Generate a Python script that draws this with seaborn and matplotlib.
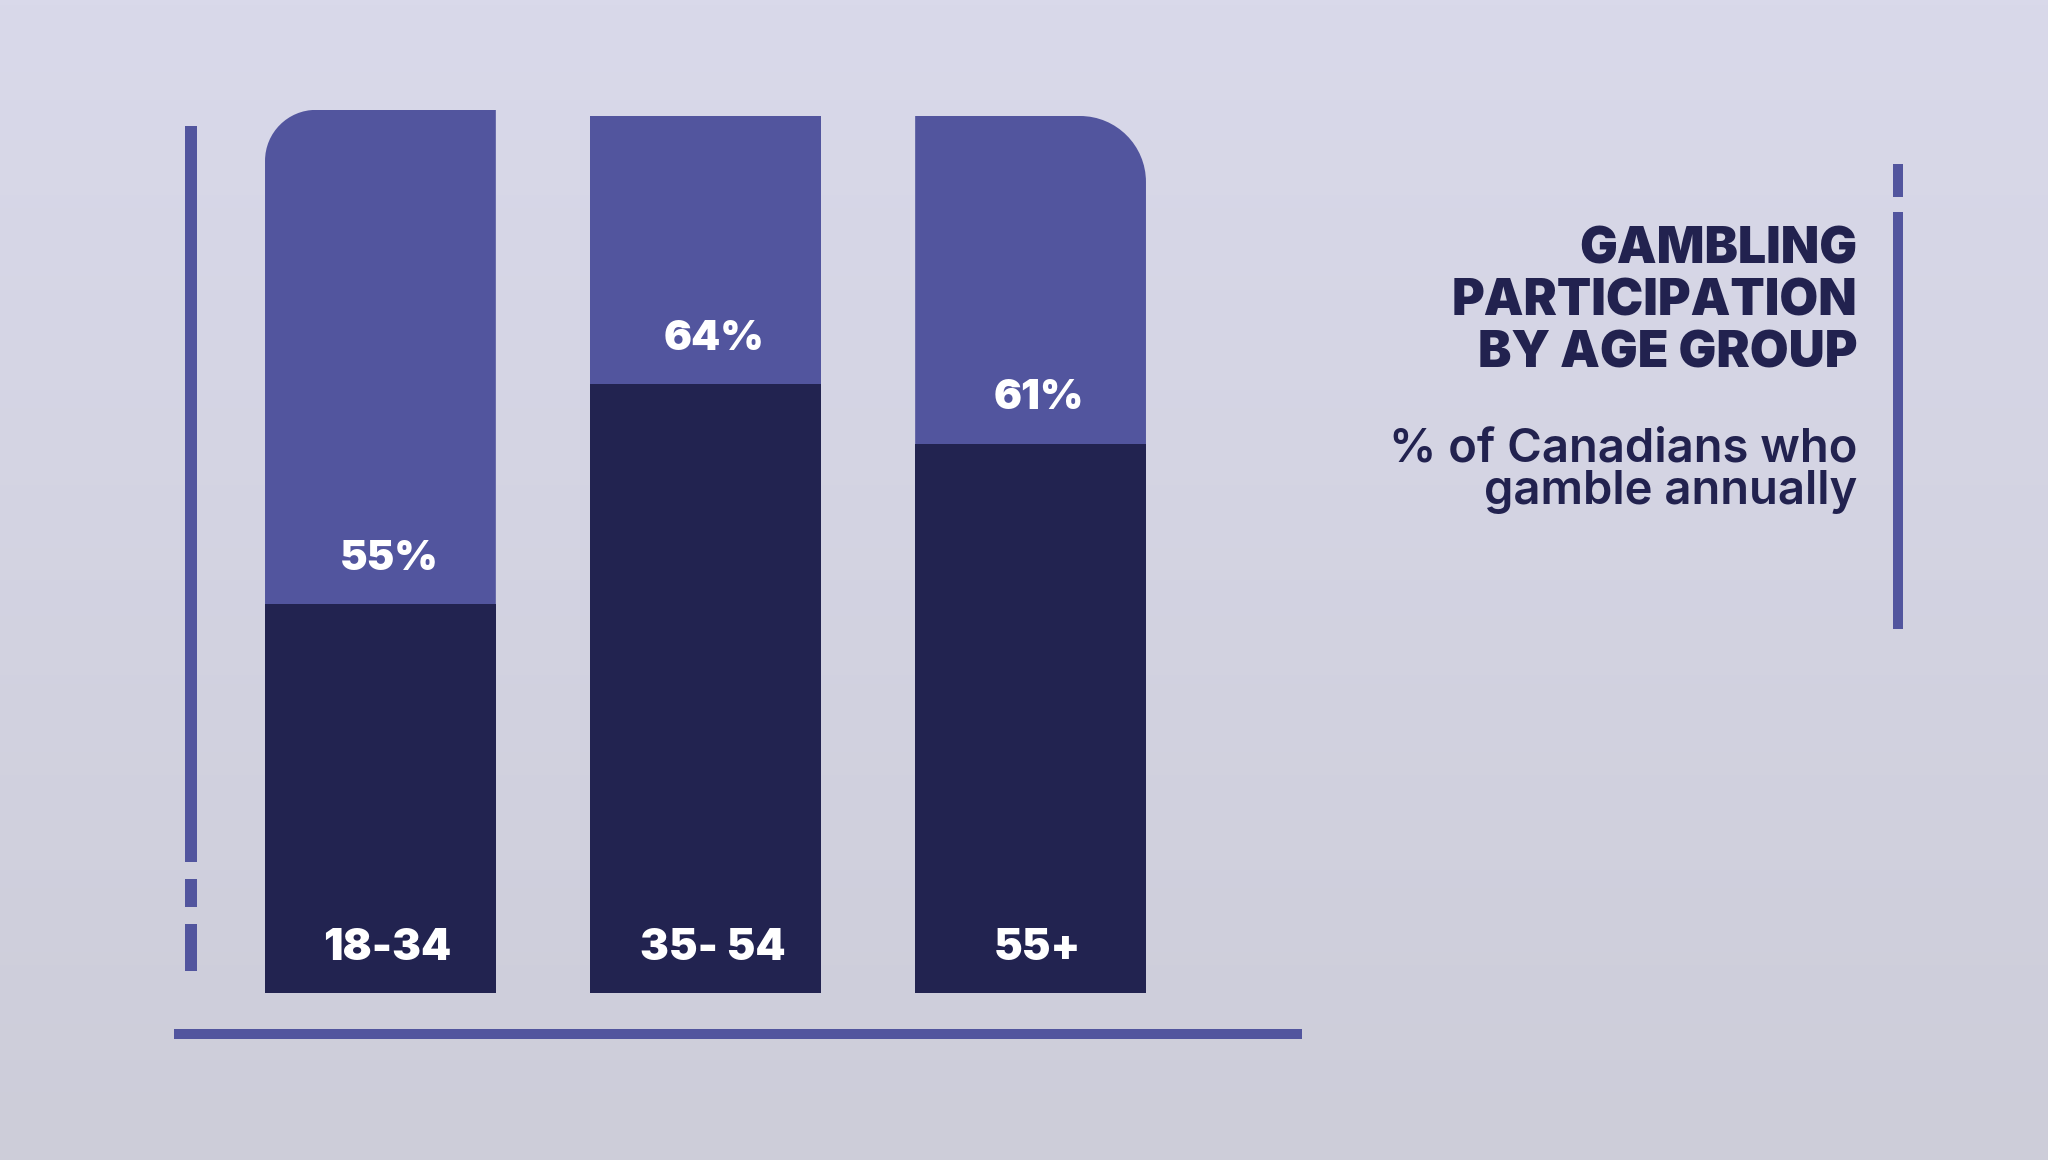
import numpy as np
import matplotlib
matplotlib.use("Agg")
import matplotlib.pyplot as plt
import seaborn as sns
from matplotlib.path import Path
from matplotlib.patches import Rectangle
from matplotlib.colors import LinearSegmentedColormap
from matplotlib.transforms import IdentityTransform

# data
age_groups = ["18-34", "35- 54", "55+"]
pct_labels = ["55%", "64%", "61%"]
bar_total = [100.7, 100, 100]      # full bar height (light part)
dark_part = [44.3, 69.4, 62.6]     # height of the dark segment as drawn

LIGHT = "#52559E"
DARK = "#222350"
INK = "#22224F"

W, H = 2048, 1160
sns.set_theme(style="white")
plt.rcParams['font.family'] = ['Inter', 'DejaVu Sans']

fig = plt.figure(figsize=(W / 100, H / 100), dpi=100)

# background gradient
bg = fig.add_axes([0, 0, 1, 1], zorder=-10)
cmap = LinearSegmentedColormap.from_list("bg", ["#D9D9EA", "#CDCDD9"])
bg.imshow(np.linspace(0, 1, 256)[:, None], aspect='auto', cmap=cmap, extent=[0, 1, 0, 1])
bg.set_axis_off()

ax = fig.add_axes([174 / W, 167 / H, 1128 / W, 943 / H])
ax.set_facecolor('none')

sns.barplot(x=age_groups, y=bar_total, color=LIGHT, saturation=1, width=0.71,
            linewidth=0, ax=ax)
sns.barplot(x=age_groups, y=dark_part, color=DARK, saturation=1, width=0.71,
            linewidth=0, ax=ax)

ax.set_xlim(-0.635, 2.835)
ax.set_ylim(0, 943 / 8.77)
ax.set(xlabel='', ylabel='', xticks=[], yticks=[])
for s in ['top', 'left', 'right']:
    ax.spines[s].set_visible(False)
ax.spines['bottom'].set_position(('outward', 29.5))
ax.spines['bottom'].set_color(LIGHT)
ax.spines['bottom'].set_linewidth(7.2)
ax.spines['bottom'].set_capstyle('butt')

for i, (lab, d) in enumerate(zip(pct_labels, dark_part)):
    ax.annotate(lab, xy=(i, d), xytext=(6, 33), textcoords='offset points',
                ha='center', va='center', color='white', fontsize=30, fontweight='black')
for i, cat in enumerate(age_groups):
    ax.annotate(cat, xy=(i, 0), xytext=(5, 32), textcoords='offset points',
                ha='center', va='center', color='white', fontsize=31, fontweight='black')

# title block
for line, base in zip(["GAMBLING", "PARTICIPATION", "BY AGE GROUP"], [263, 315, 367]):
    fig.text(1857 / W, 1 - base / H, line, ha='right', va='baseline',
             fontsize=36, fontweight='black', color=INK)
fig.text(1857 / W, 1 - 504 / H, "% of Canadians who\ngamble annually",
         ha='right', va='baseline', multialignment='right', linespacing=0.95,
         fontsize=34, fontweight='semibold', color=INK)


def px_rect(x0, y0, x1, y1):
    fig.add_artist(Rectangle((x0 / W, 1 - y1 / H), (x1 - x0) / W, (y1 - y0) / H,
                             transform=fig.transFigure, color=LIGHT, lw=0))


for seg in [(185, 126, 197, 862), (185, 879, 197, 907), (185, 924, 197, 971),
            (1893, 164, 1903, 197), (1893, 212, 1903, 629)]:
    px_rect(*seg)

# rounded corners on the first (top-left) and last (top-right) bar
fig.canvas.draw()
k = 0.5523


def rounded_clip(patch, r, side):
    b = patch.get_window_extent()
    x0, y0, x1, y1 = b.x0, b.y0, b.x1, b.y1
    if side == 'left':
        verts = [(x0, y0), (x1, y0), (x1, y1), (x0 + r, y1),
                 (x0 + r - k * r, y1), (x0, y1 - r + k * r), (x0, y1 - r), (x0, y0)]
    else:
        verts = [(x1, y0), (x0, y0), (x0, y1), (x1 - r, y1),
                 (x1 - r + k * r, y1), (x1, y1 - r + k * r), (x1, y1 - r), (x1, y0)]
    codes = [Path.MOVETO, Path.LINETO, Path.LINETO, Path.LINETO,
             Path.CURVE4, Path.CURVE4, Path.CURVE4, Path.CLOSEPOLY]
    patch.set_clip_path(Path(verts, codes), IdentityTransform())


rounded_clip(ax.patches[0], 51, 'left')
rounded_clip(ax.patches[2], 66, 'right')

fig.savefig("out.png", dpi=100)
